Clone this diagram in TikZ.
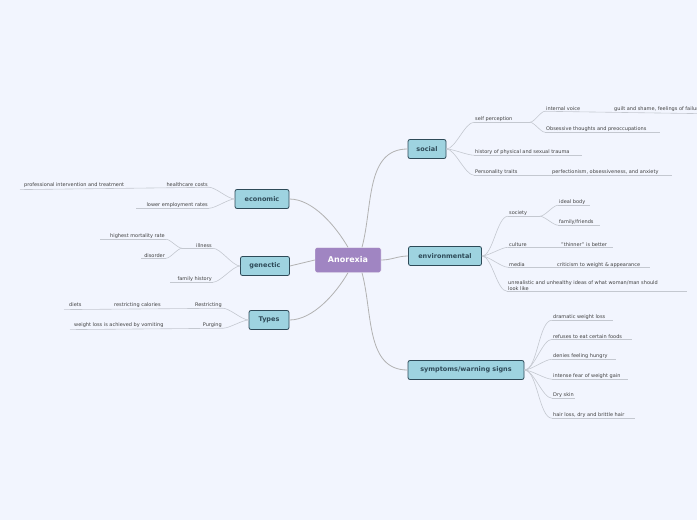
\documentclass[tikz,border=0pt]{standalone}
\usepackage{fontspec}
\setmainfont{DejaVu Sans}
\definecolor{bgcol}{HTML}{F2F5FE}
\definecolor{topcol}{HTML}{A085C2}
\definecolor{boxcol}{HTML}{9ED3E0}
\definecolor{boxline}{HTML}{2E4A58}
\definecolor{lncol}{HTML}{C4C8D0}
\tikzset{
  topic/.style={draw=boxline,fill=boxcol,rounded corners=2pt,line width=0.8pt,
    font=\fontsize{6.5}{7}\selectfont\bfseries,text=boxline,minimum height=19pt,inner sep=2pt},
  leaf/.style={font=\fontsize{5}{6}\selectfont,text=black!75,inner sep=1pt,anchor=base west},
  rleaf/.style={leaf,anchor=base east},
  ln/.style={draw=lncol,line width=0.6pt},
  br/.style={draw=black!30,line width=0.8pt}
}
\begin{document}
\begin{tikzpicture}[x=1pt,y=-1pt]
\fill[bgcol] (0,0) rectangle (697,520);
\clip (0,0) rectangle (697,520);
% main and topics
\node[fill=topcol,draw=white,rounded corners=2pt,text=white,minimum width=66pt,minimum height=25pt,
  font=\fontsize{8}{9}\selectfont\bfseries] (ano) at (348,260) {Anorexia};
\node[topic,minimum width=38pt] (soc) at (427,149) {social};
\node[topic,minimum width=73pt] (env) at (445,256) {environmental};
\node[topic,minimum width=116pt] (sym) at (466,370) {symptoms/warning signs};
\node[topic,minimum width=54pt] (eco) at (262,199) {economic};
\node[topic,minimum width=49pt] (gen) at (265,266) {genectic};
\node[topic,minimum width=40pt] (typ) at (269,320) {Types};
\draw[br] (ano.east) to[out=0,in=180] (env.west);
\draw[br] (ano.north) to[out=120,in=0,looseness=0.8] (eco.east);
\draw[br] (ano.west) -- (gen.east);
\draw[br] (ano.south) to[out=240,in=0,looseness=0.8] (typ.east);
\draw[br] (ano.north) ++(14,0) to[out=75,in=180] (soc.west);
\draw[br] (ano.south) ++(14,0) to[out=-75,in=180] (sym.west);

% social
\node[leaf] (sp) at (474,120) {self perception};
\node[leaf] (iv) at (545,110) {internal voice};
\node[leaf] (gs) at (613,110) {guilt and shame, feelings of failure};
\node[leaf] (ot) at (545,130) {Obsessive thoughts and preoccupations};
\node[leaf] (hi) at (474,153) {history of physical and sexual trauma};
\node[leaf] (pt) at (474,173) {Personality traits};
\node[leaf] (pf) at (551,173) {perfectionism, obsessiveness, and anxiety};
\draw[ln] (sp.south west) -- +(56,0);
\draw[ln] (iv.south west) -- (697,113.6);
\draw[ln] (ot.south west) -- +(115,0);
\draw[ln] (hi.south west) -- +(108,0);
\draw[ln] (pt.south west) -- +(198,0);
\foreach \l in {sp,hi,pt}
  \draw[ln] (soc.east) to[out=0,in=180,looseness=0.6] (\l.south west);
\foreach \l in {iv,ot}
  \draw[ln] (sp.south west) ++(56,0) to[out=0,in=180,looseness=0.6] (\l.south west);

% environmental
\node[leaf] (so) at (508,214) {society};
\node[leaf] (ib) at (558,203) {ideal body};
\node[leaf] (ff) at (558,223) {family/friends};
\node[leaf] (cu) at (508,246) {culture};
\node[leaf] (th) at (560,246) {"thinner" is better};
\node[leaf] (me) at (508,266) {media};
\node[leaf] (cr) at (556,266) {criticism to weight \& appearance};
\node[leaf,align=left,anchor=north west] (un) at (507,279) {unrealistic and unhealthy ideas of what woman/man should\\look like};
\draw[ln] (so.south west) -- +(32,0);
\draw[ln] (ib.south west) -- +(32,0);
\draw[ln] (ff.south west) -- +(42,0);
\draw[ln] (cu.south west) -- +(105,0);
\draw[ln] (me.south west) -- +(142,0);
\draw[ln] (un.south west) -- +(180,0);
\foreach \l in {so,cu,me,un}
  \draw[ln] (env.east) to[out=0,in=180,looseness=0.6] (\l.south west);
\foreach \l in {ib,ff}
  \draw[ln] (so.south west) ++(32,0) to[out=0,in=180,looseness=0.6] (\l.south west);

% symptoms
\foreach \n/\y/\w/\s in {s1/318/61/dramatic weight loss,s2/338/80/refuses to eat certain foods,
  s3/357/64/denies feeling hungry,s4/377/76/intense fear of weight gain,s5/396/23/Dry skin,
  s6/416/83/{hair loss, dry and brittle hair}}{
  \node[leaf] (\n) at (552,\y) {\s};
  \draw[ln] (\n.south west) -- +(\w,0);
  \draw[ln] (sym.east) to[out=0,in=180,looseness=0.6] (\n.south west);
}

% economic
\node[rleaf] (hc) at (209,186) {healthcare costs};
\node[leaf] (pi) at (23,186) {professional intervention and treatment};
\node[rleaf] (le) at (209,206) {lower employment rates};
\draw[ln] (hc.south east) -- (20,189.6);
\draw[ln] (le.south east) -- +(-73,0);
\foreach \l in {hc,le}
  \draw[ln] (eco.west) to[out=180,in=0,looseness=0.6] (\l.south east);

% genectic
\node[rleaf] (il) at (213,247) {illness};
\node[rleaf] (hm) at (166,237) {highest mortality rate};
\node[rleaf] (di) at (166,257) {disorder};
\node[rleaf] (fh) at (213,280) {family history};
\draw[ln] (il.south east) -- +(-31,0);
\draw[ln] (hm.south east) -- +(-66,0);
\draw[ln] (di.south east) -- +(-25,0);
\draw[ln] (fh.south east) -- +(-43,0);
\foreach \l in {il,fh}
  \draw[ln] (gen.west) to[out=180,in=0,looseness=0.6] (\l.south east);
\foreach \l in {hm,di}
  \draw[ln] (il.south east) ++(-31,0) to[out=180,in=0,looseness=0.6] (\l.south east);

% types
\node[rleaf] (re) at (223,306) {Restricting};
\node[leaf] (rc) at (113,306) {restricting calories};
\node[leaf] (dt) at (68,306) {diets};
\node[rleaf] (pu) at (223,326) {Purging};
\node[leaf] (wl) at (73,326) {weight loss is achieved by vomiting};
\draw[ln] (re.south east) -- (64,309.6);
\draw[ln] (pu.south east) -- (70,329.6);
\foreach \l in {re,pu}
  \draw[ln] (typ.west) to[out=180,in=0,looseness=0.6] (\l.south east);
\end{tikzpicture}
\end{document}
